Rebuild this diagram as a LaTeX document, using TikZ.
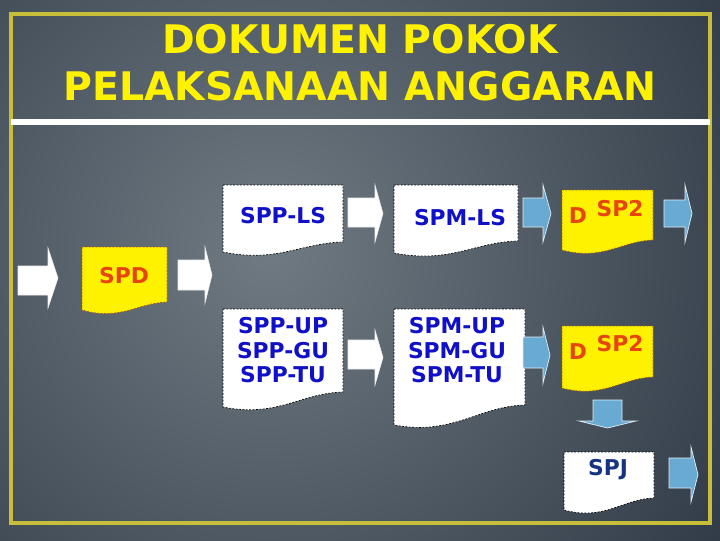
\documentclass[tikz,border=0pt]{standalone}
\usepackage{fontspec}
\setmainfont{DejaVu Sans}
\definecolor{bglight}{RGB}{112,122,130}
\definecolor{bgdark}{RGB}{26,36,50}
\definecolor{framegold}{RGB}{200,190,58}
\definecolor{docblue}{RGB}{16,16,200}
\definecolor{docred}{RGB}{232,68,16}
\definecolor{docnavy}{RGB}{22,52,130}
\definecolor{arrowblue}{RGB}{104,170,210}
\definecolor{edgebrown}{RGB}{170,90,20}

% paper sheet: style, x left, y top, x right, y bottom left, y bottom right
\newcommand{\paper}[6]{
\filldraw[#1] (#2,#3) -- (#4,#3) -- (#4,#6)
  .. controls ({#4-0.35*(#4-#2)},{#6+1}) and ({#2+0.45*(#4-#2)},{#5+11}) .. (#2,#5) -- cycle;
}
% block arrow: style, x start, x head, x tip, y head top, y shaft top, y shaft bottom, y head bottom
\newcommand{\blockarrow}[8]{
\filldraw[#1] (#2,#6) -- (#3,#6) -- (#3,#5) -- (#4,{(#5+#8)/2}) -- (#3,#8) -- (#3,#7) -- (#2,#7) -- cycle;
}

\tikzset{
  whitesheet/.style={fill=white, draw=black, dash pattern=on 1.3pt off 1.1pt, line width=0.5pt},
  yellowsheet/.style={fill=yellow, draw=edgebrown, dash pattern=on 1.3pt off 1.1pt, line width=0.5pt},
  whitearrow/.style={fill=white, draw=white!85!gray, line width=0.4pt},
  bluearrow/.style={fill=arrowblue, draw=white!80!arrowblue, line width=0.5pt},
  doctext/.style={font=\bfseries\fontsize{15.5}{17.5}\selectfont, text=docblue, text depth=0pt, align=center, inner sep=0pt},
  redtext/.style={doctext, text=docred},
  titletext/.style={font=\bfseries\fontsize{28}{30}\selectfont, text=yellow, text depth=0pt, inner sep=0pt}
}

\begin{document}
\begin{tikzpicture}[x=0.025cm, y=-0.025cm]
\useasboundingbox (0,0) rectangle (720,540);

% background
\begin{scope}
\clip (0,0) rectangle (720,540);
\shade[inner color=bglight, outer color=bgdark] (270,250) circle (740);
\end{scope}
\draw[framegold, line width=2.6pt] (11,14) rectangle (710,523);
\draw[white, line width=4.5pt] (11,122) -- (710,122);

% title
\node[titletext] (title1) at (360,39) {DOKUMEN POKOK};
\node[titletext] (title2) at (360,86) {PELAKSANAAN ANGGARAN};

% sheets
\paper{yellowsheet}{82}{247}{167}{310}{302}
\paper{whitesheet}{223}{185}{343}{252}{242}
\paper{whitesheet}{394}{185}{518}{253}{241}
\paper{yellowsheet}{562}{190}{653}{250}{240}
\paper{whitesheet}{223}{309}{343}{407}{392}
\paper{whitesheet}{394}{309}{525}{425}{405}
\paper{yellowsheet}{562}{326}{653}{388}{377}
\paper{whitesheet}{564}{452}{654}{510}{498}

% arrows
\blockarrow{whitearrow}{18}{48}{58}{248}{266}{295}{308}
\blockarrow{whitearrow}{178}{205}{212}{247}{260}{290}{303}
\blockarrow{whitearrow}{348}{375}{383}{185}{198}{227}{242}
\blockarrow{whitearrow}{348}{375}{383}{330}{340}{369}{385}
\blockarrow{bluearrow}{523}{543}{551}{185}{198}{227}{242}
\blockarrow{bluearrow}{664}{685}{692}{185}{200}{227}{242}
\blockarrow{bluearrow}{523}{543}{550}{327}{337}{368}{383}
\blockarrow{bluearrow}{669}{691}{698}{447}{458}{488}{502}
\filldraw[bluearrow] (593,400) -- (622,400) -- (622,421) -- (636,421) -- (607.5,428) -- (579,421) -- (593,421) -- cycle;

% texts
\node[redtext] (spd) at (124,275) {SPD};
\node[doctext] (spp-ls) at (283,215) {SPP-LS};
\node[doctext] (spm-ls) at (460,217) {SPM-LS};
\node[redtext] (d-top) at (578,216) {D};
\node[redtext] (sp2-top) at (620,208) {SP2};
\node[doctext] (spp-up) at (283,350) {SPP-UP\\SPP-GU\\SPP-TU};
\node[doctext] (spm-up) at (457,350) {SPM-UP\\SPM-GU\\SPM-TU};
\node[redtext] (d-low) at (578,352) {D};
\node[redtext] (sp2-low) at (620,343) {SP2};
\node[doctext, text=docnavy] (spj) at (608,467) {SPJ};

\end{tikzpicture}
\end{document}
